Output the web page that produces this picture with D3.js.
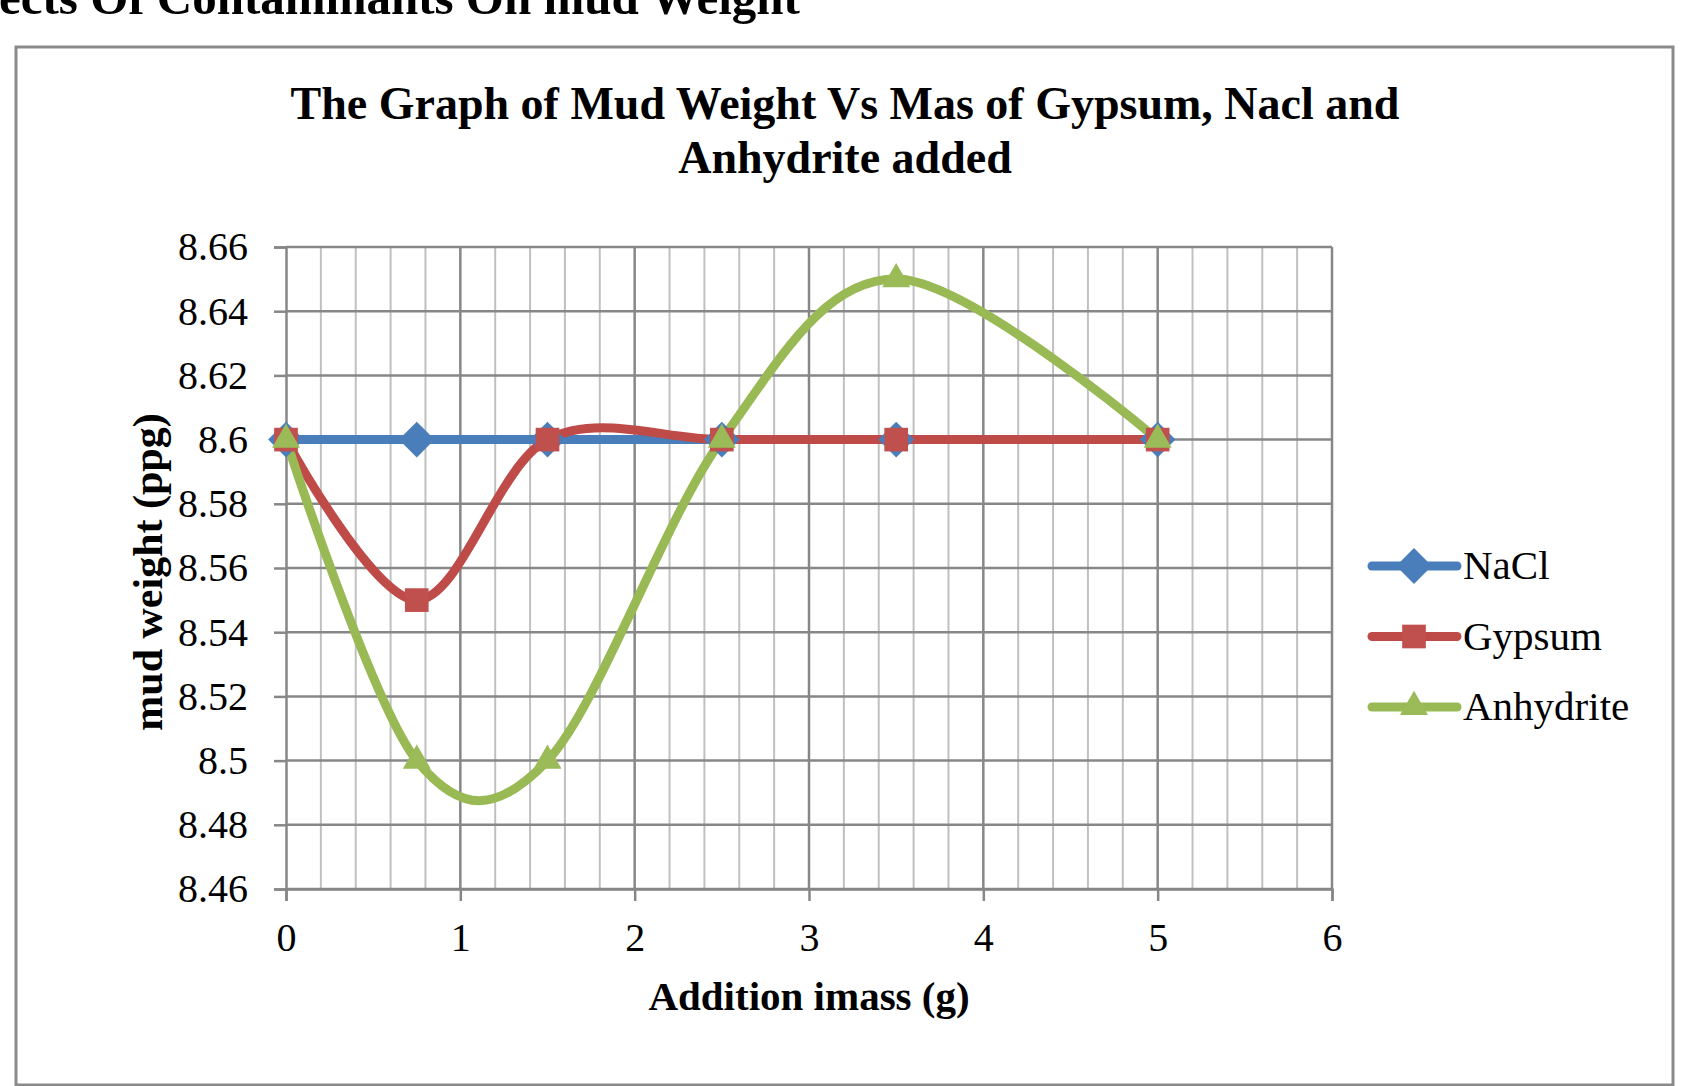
<!DOCTYPE html>
<html>
<head>
<meta charset="utf-8">
<script src="https://cdn.jsdelivr.net/npm/d3@7"></script>
<style>
  body { margin: 0; background: #fff; }
  svg { display: block; font-family: "Liberation Serif", "Times New Roman", serif; }
</style>
</head>
<body>
<div id="chart"></div>
<script>
// data
const massAdded = [0, 0.75, 1.5, 2.5, 3.5, 5];
const nacl      = [8.6, 8.6, 8.6, 8.6, 8.6, 8.6];
const gypsum    = [8.6, 8.55, 8.6, 8.6, 8.6, 8.6];
const anhydrite = [8.6, 8.5, 8.5, 8.6, 8.65, 8.6];
const seriesNames = ["NaCl", "Gypsum", "Anhydrite"];
const xTicks = [0, 1, 2, 3, 4, 5, 6];
const yTicks = [8.46, 8.48, 8.5, 8.52, 8.54, 8.56, 8.58, 8.6, 8.62, 8.64, 8.66];

const W = 1697, H = 1086;
const plot = { left: 286, right: 1332, top: 247, bottom: 889 };

const svg = d3.select("#chart").append("svg")
    .attr("width", W)
    .attr("height", H);

// page heading, cut off at the top of the picture
svg.append("text")
    .attr("x", -1).attr("y", 14)
    .attr("font-size", 49).attr("font-weight", "bold")
    .text("ects Of Contaminants On mud Weight");

// chart frame
svg.append("rect")
    .attr("x", 16).attr("y", 47)
    .attr("width", 1673 - 16).attr("height", 1085 - 47)
    .attr("fill", "none")
    .attr("stroke", "#8a8a8a")
    .attr("stroke-width", 3);

// title
const title = svg.append("text")
    .attr("text-anchor", "middle")
    .attr("font-size", 46).attr("font-weight", "bold");
title.append("tspan").attr("x", 845).attr("y", 119)
    .text("The Graph of Mud Weight Vs Mas of Gypsum, Nacl and");
title.append("tspan").attr("x", 845).attr("y", 173)
    .text("Anhydrite added");

const x = d3.scaleLinear().domain([0, 6]).range([plot.left, plot.right]);
const y = d3.scaleLinear().domain([8.46, 8.66]).range([plot.bottom, plot.top]);

// minor vertical gridlines (every 0.2)
const minor = x.ticks(30).filter(v => Math.abs(v - Math.round(v)) > 1e-6);
svg.append("g").selectAll("line")
    .data(minor)
    .enter().append("line")
    .attr("x1", d => x(d)).attr("x2", d => x(d))
    .attr("y1", plot.top).attr("y2", plot.bottom)
    .attr("stroke", "#c0c0c0")
    .attr("stroke-width", 2);

// major vertical gridlines
svg.append("g").selectAll("line")
    .data(xTicks.slice(1))
    .enter().append("line")
    .attr("x1", d => x(d)).attr("x2", d => x(d))
    .attr("y1", plot.top).attr("y2", plot.bottom)
    .attr("stroke", "#878787")
    .attr("stroke-width", 2.5);

// horizontal gridlines
svg.append("g").selectAll("line")
    .data(yTicks)
    .enter().append("line")
    .attr("x1", plot.left).attr("x2", plot.right)
    .attr("y1", d => y(d)).attr("y2", d => y(d))
    .attr("stroke", "#878787")
    .attr("stroke-width", 2.5);

// axes
const yAxis = svg.append("g")
    .attr("transform", `translate(${plot.left},0)`)
    .call(d3.axisLeft(y).tickValues(yTicks).tickSize(12).tickPadding(26).tickFormat(d3.format("")));

const xAxis = svg.append("g")
    .attr("transform", `translate(0,${plot.bottom})`)
    .call(d3.axisBottom(x).tickValues(xTicks).tickSize(12).tickFormat(d3.format("d")));

[yAxis, xAxis].forEach(ax => {
    ax.select(".domain").attr("stroke", "#878787").attr("stroke-width", 2.5);
    ax.selectAll(".tick line").attr("stroke", "#878787").attr("stroke-width", 2.5);
    ax.selectAll(".tick text")
        .attr("fill", "#000")
        .attr("font-size", 40)
        .attr("font-family", "'Liberation Serif', 'Times New Roman', serif");
});
xAxis.selectAll(".tick text").attr("y", 62).attr("dy", null);

// axis titles
svg.append("text")
    .attr("x", (plot.left + plot.right) / 2).attr("y", 1010)
    .attr("text-anchor", "middle")
    .attr("font-size", 41).attr("font-weight", "bold")
    .text("Addition imass (g)");

svg.append("text")
    .attr("transform", "translate(162,572) rotate(-90)")
    .attr("text-anchor", "middle")
    .attr("font-size", 42).attr("font-weight", "bold")
    .text("mud weight (ppg)");

// series
const series = [
    { name: seriesNames[0], values: nacl,      line: "#4a7ebb", fill: "#4a7ebb", symbol: d3.symbolSquare,   size: 640, rot: 45 },
    { name: seriesNames[1], values: gypsum,    line: "#be4b48", fill: "#c0504d", symbol: d3.symbolSquare,   size: 560, rot: 0 },
    { name: seriesNames[2], values: anhydrite, line: "#98b954", fill: "#9bbb59", symbol: d3.symbolTriangle, size: 340, rot: 0 }
];

const line = d3.line()
    .x(d => x(d[0]))
    .y(d => y(d[1]))
    .curve(d3.curveCardinal.tension(0));

series.forEach(s => {
    svg.append("path")
        .datum(massAdded.map((m, i) => [m, s.values[i]]))
        .attr("d", line)
        .attr("fill", "none")
        .attr("stroke", s.line)
        .attr("stroke-width", 9)
        .attr("stroke-linejoin", "round")
        .attr("stroke-linecap", "round");
});

series.forEach(s => {
    svg.append("g").selectAll("path")
        .data(massAdded.map((m, i) => [m, s.values[i]]))
        .enter().append("path")
        .attr("d", d3.symbol().type(s.symbol).size(s.size))
        .attr("transform", d => `translate(${x(d[0])},${y(d[1])}) rotate(${s.rot})`)
        .attr("fill", s.fill);
});

// legend
const legend = svg.append("g").attr("transform", "translate(1372,566)");
const items = legend.selectAll("g")
    .data(series)
    .enter().append("g")
    .attr("transform", (d, i) => `translate(0,${i * 70.5})`);

items.append("line")
    .attr("x1", 0).attr("x2", 85)
    .attr("stroke", d => d.line)
    .attr("stroke-width", 9)
    .attr("stroke-linecap", "round");

items.append("path")
    .attr("d", d => d3.symbol().type(d.symbol).size(d.size)())
    .attr("transform", d => `translate(42,0) rotate(${d.rot})`)
    .attr("fill", d => d.fill);

items.append("text")
    .attr("x", 91).attr("y", 13)
    .attr("font-size", 41)
    .text(d => d.name);
</script>
</body>
</html>
